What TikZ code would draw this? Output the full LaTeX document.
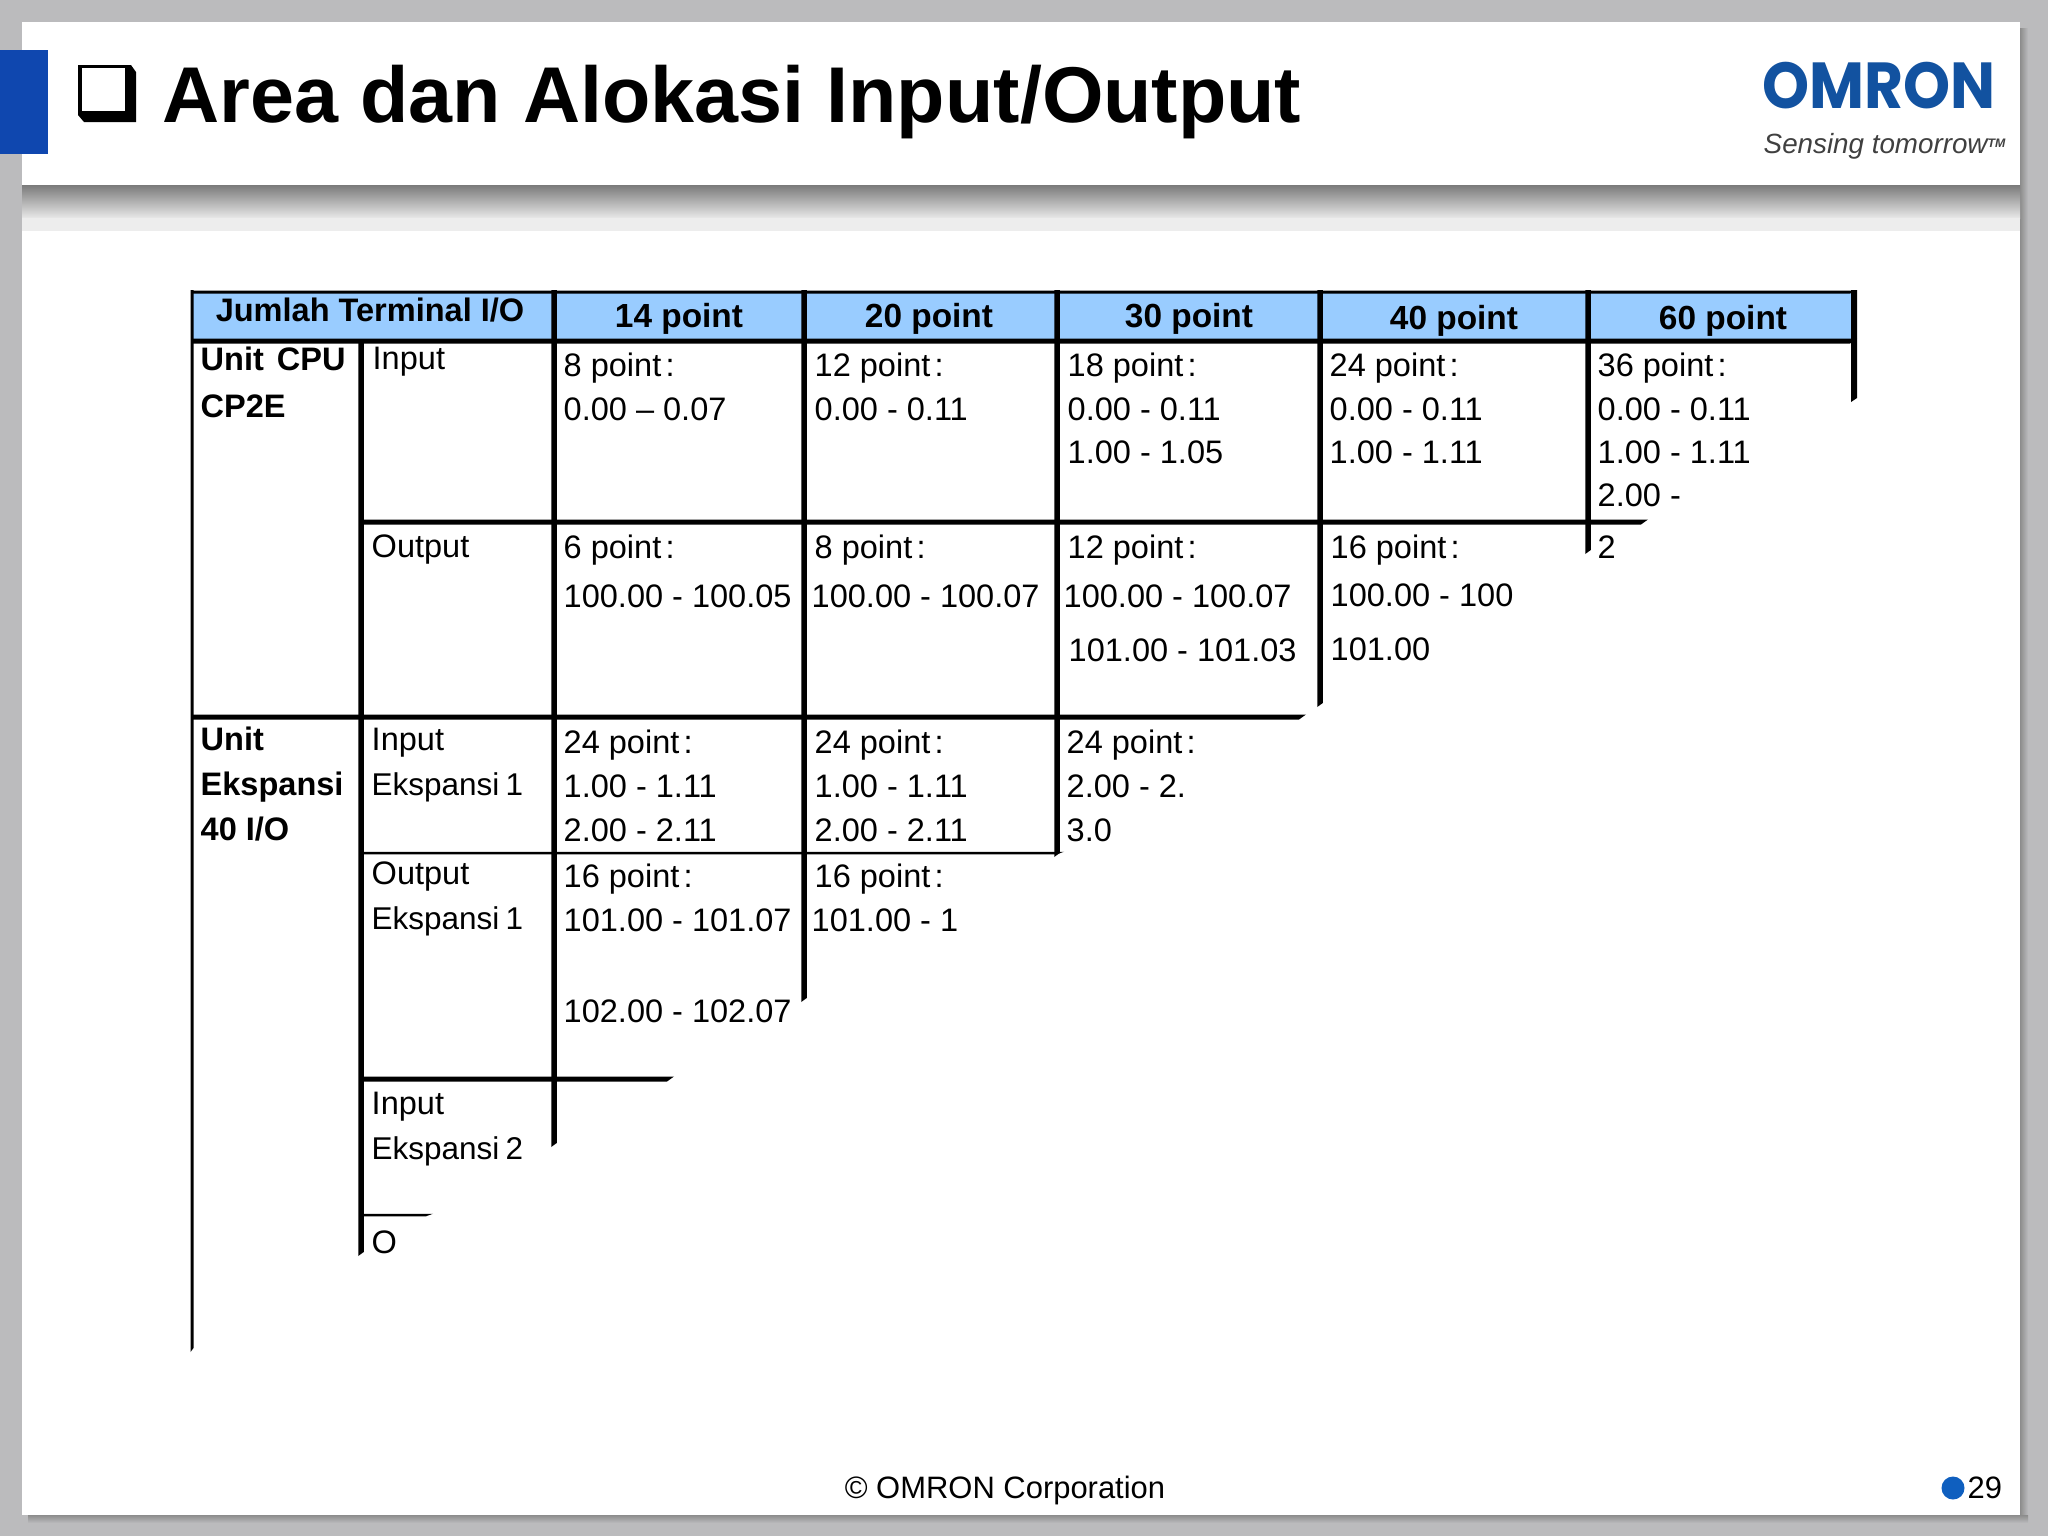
\documentclass[tikz,border=0pt]{standalone}
\usepackage{fontspec}
\setmainfont{Liberation Sans}
\newfontfamily\logofont{Poppins}
\usepackage{xcolor}
\usetikzlibrary{positioning}
\definecolor{omronblue}{RGB}{15,71,175}
\definecolor{logoblue}{RGB}{18,82,160}
\definecolor{dotblue}{RGB}{15,95,191}
\definecolor{headblue}{RGB}{153,204,255}
\definecolor{pagegray}{RGB}{187,187,189}
\newcommand{\tablev}[4]{\fill ({#1-#4/2},#2) -- ({#1+#4/2},#2) -- ({#1+#4/2},{#3-4}) -- ({#1-#4/2},#3) -- cycle;}
\newcommand{\tableh}[4]{\fill (#2,{#1-#4/2}) -- (#3,{#1-#4/2}) -- ({#3-7},{#1+#4/2}) -- (#2,{#1+#4/2}) -- cycle;}
\newcommand{\ptcolon}{\hspace{0.13em}:}
\newcommand{\tightsp}{\hspace{0.2em}}

\begin{document}
\begin{tikzpicture}[
    x=0.01cm, y=-0.01cm,
    cell/.style={anchor=base west, inner sep=0pt, font=\fontsize{9.25}{11}\selectfont},
    narrowcell/.style={cell, font=\fontsize{8.95}{11}\selectfont},
    rowhead/.style={cell, font=\fontsize{9.25}{11}\selectfont\bfseries},
    colhead/.style={anchor=base, inner sep=0pt, font=\fontsize{9.5}{11}\selectfont\bfseries}
]

% slide
\fill[pagegray] (0,0) rectangle (2048,1536);
\useasboundingbox (0,0) rectangle (2048,1536);
\shade[left color=black!45, right color=pagegray] (2020,28) rectangle (2028,1523);
\shade[top color=black!45, bottom color=pagegray] (28,1515) rectangle (2028,1523);
\fill[white] (22,22) rectangle (2020,1515);
\shade[top color=black!52, bottom color=black!9] (22,185) rectangle (2020,218);
\fill[black!7] (22,218) rectangle (2020,231);
\fill[white] (22,22) rectangle (2020,185);
\fill[omronblue] (0,50) rectangle (48,154);

% title
\fill (78,65) -- (131,65) -- (136,72) -- (136,122) -- (84,122) -- (78,115) -- cycle;
\fill[white] (82,68) rectangle (125,111);
\node[anchor=base west, inner sep=0pt, font=\fontsize{22.5}{26}\selectfont\bfseries] (title) at (162,122) {Area dan Alokasi Input/Output};

% logo
\node[anchor=base west, inner sep=0pt, text=logoblue, font=\logofont\fontsize{18.5}{20}\selectfont\bfseries, xscale=0.92, transform shape] (logo) at (1762,108) {OMRON};
\node[anchor=base west, inner sep=0pt, text=black!75, font=\fontsize{7.9}{9}\selectfont\itshape] (slogan) at (1763,153) {Sensing tomorrow\raisebox{0.35ex}{\fontsize{3.5}{4}\selectfont\bfseries TM}};

% header row
\fill[headblue] (192,291) rectangle (1854,341);
\node[colhead, font=\fontsize{9.25}{11}\selectfont\bfseries] (jumlah) at (370,321) {Jumlah Terminal I/O};
\foreach \cx/\by/\txt [count=\i] in {679/327/14 point, 929/327/20 point, 1189/327/30 point, 1454/329/40 point, 1723/329/60 point}
    \node[colhead] (head\i) at (\cx,\by) {\txt};

% table lines
\tablev{192}{290}{1352}{3}
\tablev{361}{341}{1256}{5.5}
\tablev{554}{290}{1147}{5.5}
\tablev{804}{290}{1002}{5.5}
\tablev{1057}{290}{857}{5.5}
\tablev{1320}{290}{707}{5.5}
\tablev{1588}{290}{554}{5.5}
\tablev{1854}{290}{402}{6}
\tableh{292}{191}{1857}{3}
\tableh{341}{191}{1857}{5}
\tableh{522}{360}{1648}{5}
\tableh{717}{191}{1306}{5}
\tableh{853}{360}{1064}{2.5}
\tableh{1079}{360}{674}{5}
\tableh{1215}{360}{433}{2.5}

% row labels
\foreach \tx/\ty/\txt [count=\i] in {200/370/Unit\hspace{0.4em}CPU, 200/417/CP2E, 200/750/Unit, 200/795/Ekspansi}
    \node[rowhead] (unit\i) at (\tx,\ty) {\txt};
\node[rowhead] (unit5) at (200,840) {40 I/O};
\foreach \tx/\ty/\txt [count=\i] in {372/369/Input, 371/557/Output, 371/750/Input, 371/884/Output, 371/1114/Input, 371/1253/O}
    \node[cell] (label\i) at (\tx,\ty) {\txt};
\foreach \tx/\ty/\txt [count=\i] in {371/795/Ekspansi\tightsp 1, 371/929/Ekspansi\tightsp 1, 371/1159/Ekspansi\tightsp 2}
    \node[narrowcell] (ekspansi\i) at (\tx,\ty) {\txt};

% cells
\foreach \tx/\ty/\txt [count=\i] in {
    563/376/8 point\ptcolon, 563/420/0.00 -- 0.07,
    814/376/12 point\ptcolon, 814/420/0.00 - 0.11,
    1067/376/18 point\ptcolon, 1067/420/0.00 - 0.11, 1067/463/1.00 - 1.05,
    1329/376/24 point\ptcolon, 1329/420/0.00 - 0.11, 1329/463/1.00 - 1.11,
    1597/376/36 point\ptcolon, 1597/420/0.00 - 0.11, 1597/463/1.00 - 1.11, 1597/506/2.00 -,
    563/558/6 point\ptcolon, 563/607/100.00 - 100.05,
    814/558/8 point\ptcolon, 811/607/100.00 - 100.07,
    1067/558/12 point\ptcolon, 1063/607/100.00 - 100.07, 1068/661/101.00 - 101.03,
    1330/558/16 point\ptcolon, 1330/606/100.00 - 100, 1330/660/101.00,
    1597/558/2,
    563/753/24 point\ptcolon, 563/797/1.00 - 1.11, 563/841/2.00 - 2.11,
    814/753/24 point\ptcolon, 814/797/1.00 - 1.11, 814/841/2.00 - 2.11,
    1066/753/24 point\ptcolon, 1066/797/2.00 - 2., 1066/841/3.0,
    563/887/16 point\ptcolon, 563/931/101.00 - 101.07, 563/1022/102.00 - 102.07,
    814/887/16 point\ptcolon, 811/931/101.00 - 1}
    \node[cell] (cell\i) at (\tx,\ty) {\txt};

% footer
\node[anchor=base, inner sep=0pt, font=\fontsize{8.8}{10}\selectfont] (footer) at (1005,1498) {© OMRON Corporation};
\fill[dotblue] (1953,1488) circle (11.5);
\node[anchor=base west, inner sep=0pt, font=\fontsize{8.8}{10}\selectfont] (pagenum) at (1967,1498) {29};

\end{tikzpicture}
\end{document}
